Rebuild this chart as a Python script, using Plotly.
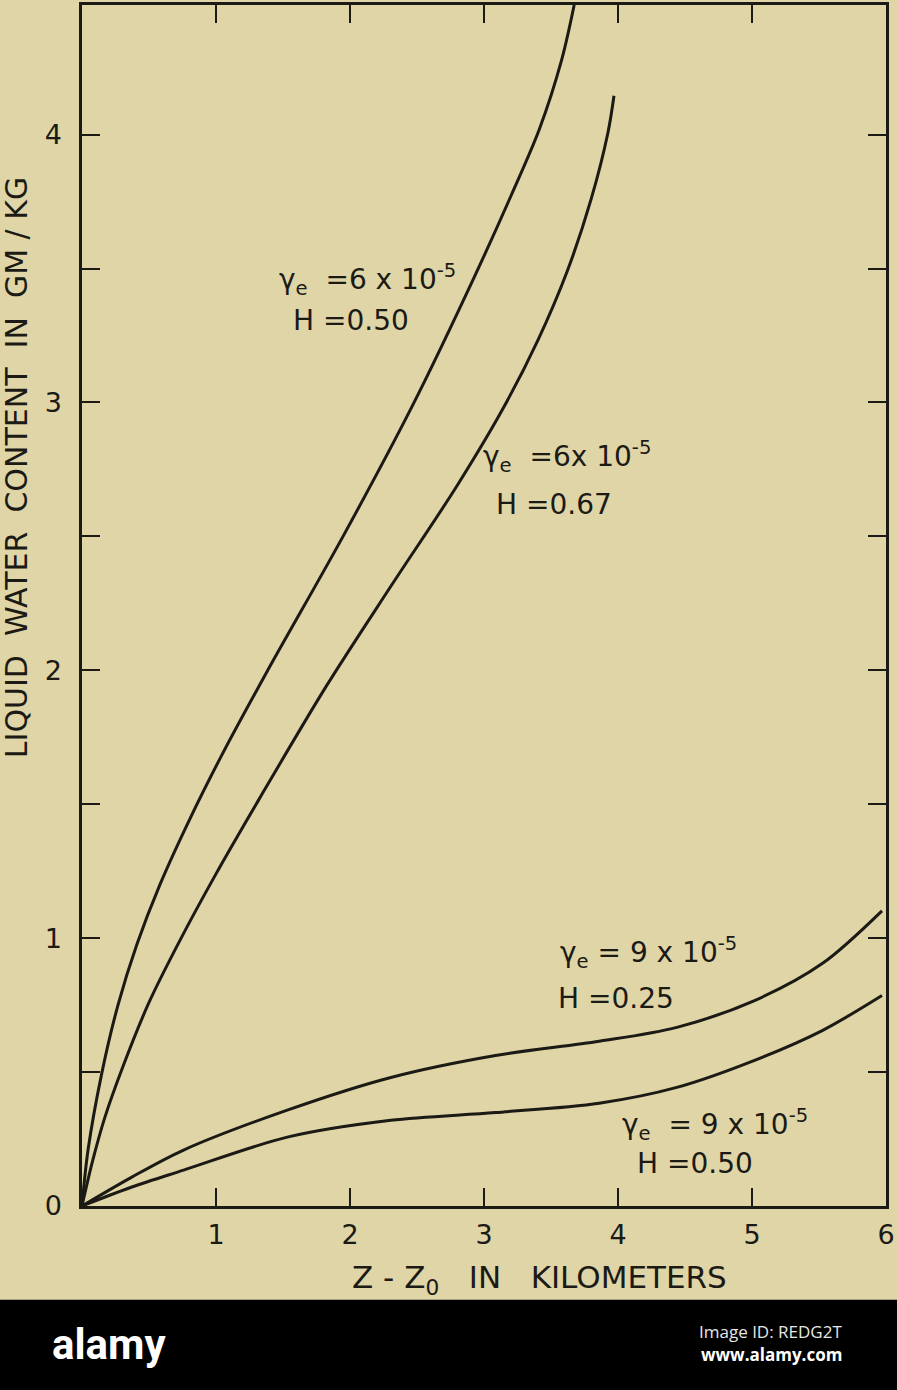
import plotly.graph_objects as go

# ---------------- data ----------------
# gamma_e = 6e-5, H = 0.50
x_a = [0.0, 0.045, 0.149, 0.27, 0.41, 0.58, 0.80, 1.05, 1.375, 1.948, 2.468, 2.929, 3.2, 3.413, 3.58, 3.673]
y_a = [0.0, 0.209, 0.499, 0.753, 0.977, 1.198, 1.44, 1.69, 1.99, 2.50, 2.99, 3.47, 3.77, 4.02, 4.28, 4.484]
# gamma_e = 6e-5, H = 0.67
x_b = [0.0, 0.08, 0.17, 0.305, 0.5, 0.729, 1.0, 1.323, 1.822, 2.3, 2.8, 3.145, 3.4, 3.621, 3.8, 3.926, 3.970]
y_b = [0.0, 0.17, 0.33, 0.52, 0.76, 0.99, 1.24, 1.52, 1.94, 2.31, 2.69, 2.98, 3.23, 3.49, 3.76, 4.01, 4.145]
# gamma_e = 9e-5, H = 0.25
x_c = [0.0, 0.372, 0.758, 1.532, 2.305, 3.086, 3.859, 4.439, 5.019, 5.524, 5.970]
y_c = [0.0, 0.108, 0.209, 0.358, 0.480, 0.562, 0.615, 0.667, 0.767, 0.905, 1.102]
# gamma_e = 9e-5, H = 0.50
x_d = [0.0, 0.372, 0.758, 1.532, 2.305, 3.086, 3.859, 4.439, 5.019, 5.524, 5.970]
y_d = [0.0, 0.071, 0.134, 0.257, 0.320, 0.349, 0.384, 0.443, 0.544, 0.655, 0.786]

x_tickvals = [1, 2, 3, 4, 5, 6]
x_ticktext = ["1", "2", "3", "4", "5", "6"]
y_tickvals = [0, 0.5, 1, 1.5, 2, 2.5, 3, 3.5, 4]
y_ticktext = ["0", "", "1", "", "2", "", "3", "", "4"]

label_line1 = [
    "γ<sub>e</sub>  =6 x 10<sup>-5</sup>",
    "γ<sub>e</sub>  =6x 10<sup>-5</sup>",
    "γ<sub>e</sub> = 9 x 10<sup>-5</sup>",
    "γ<sub>e</sub>  = 9 x 10<sup>-5</sup>",
]
label_line2 = ["H =0.50", "H =0.67", "H =0.25", "H =0.50"]

# ---------------- styling ----------------
BG = "#DFD5A7"
INK = "#1b1a15"
FONT = "DejaVu Sans"

fig = go.Figure()
for xs, ys in [(x_a, y_a), (x_b, y_b), (x_c, y_c), (x_d, y_d)]:
    fig.add_trace(go.Scatter(
        x=xs, y=ys, mode="lines",
        line=dict(color=INK, width=3, shape="spline", smoothing=0.9),
        showlegend=False, hoverinfo="skip"))

# label anchor positions (data coords)
l1_pos = [(1.457, 3.46), (2.981, 2.80), (3.554, 0.945), (4.015, 0.305)]
l2_pos = [(1.561, 3.307), (3.071, 2.618), (3.539, 0.775), (4.126, 0.160)]

anns = []
for (px, py), t in zip(l1_pos, label_line1):
    anns.append(dict(x=px, y=py, xref="x", yref="y", text=t, showarrow=False,
                     xanchor="left", yanchor="middle",
                     font=dict(family=FONT, size=28, color=INK)))
for (px, py), t in zip(l2_pos, label_line2):
    anns.append(dict(x=px, y=py, xref="x", yref="y", text=t, showarrow=False,
                     xanchor="left", yanchor="middle",
                     font=dict(family=FONT, size=28, color=INK)))

# axis titles
anns.append(dict(x=0.569, y=-0.0615, xref="paper", yref="paper",
                 text="Z - Z<sub>0</sub>   IN   KILOMETERS", showarrow=False,
                 xanchor="center", yanchor="middle",
                 font=dict(family=FONT, size=31, color=INK)))
anns.append(dict(x=-0.0805, y=0.6146, xref="paper", yref="paper",
                 text="LIQUID  WATER  CONTENT  IN  GM / KG", showarrow=False,
                 textangle=-90, xanchor="center", yanchor="middle",
                 font=dict(family=FONT, size=30, color=INK)))

# stock-photo footer band
anns.append(dict(x=-0.0397, y=-0.1154, xref="paper", yref="paper", text="<b>alamy</b>",
                 showarrow=False, xanchor="left", yanchor="middle",
                 font=dict(family="Liberation Sans Narrow, Roboto, sans-serif", size=42, color="white")))
anns.append(dict(x=0.948, y=-0.1047, xref="paper", yref="paper", text="Image ID: REDG2T",
                 showarrow=False, xanchor="right", yanchor="middle",
                 font=dict(family="Open Sans", size=17, color="#e6e6e6")))
anns.append(dict(x=0.948, y=-0.1238, xref="paper", yref="paper", text="<b>www.alamy.com</b>",
                 showarrow=False, xanchor="right", yanchor="middle",
                 font=dict(family="Open Sans", size=17, color="white")))

axis_common = dict(
    ticks="inside", ticklen=18, tickwidth=2, tickcolor=INK,
    showline=True, linewidth=2.5, linecolor=INK, mirror="ticks",
    showgrid=False, zeroline=False,
    tickfont=dict(family=FONT, size=27, color=INK),
    ticklabeloverflow="allow",
)

fig.update_layout(
    width=897, height=1390,
    margin=dict(l=82, r=8, t=2, b=184),
    paper_bgcolor=BG, plot_bgcolor=BG,
    xaxis=dict(range=[0, 6], tickmode="array", tickvals=x_tickvals, ticktext=x_ticktext,
               ticklabelstandoff=3, **axis_common),
    yaxis=dict(range=[0, 4.484], tickmode="array", tickvals=y_tickvals, ticktext=y_ticktext,
               ticklabelstandoff=12, **axis_common),
    annotations=anns,
    shapes=[dict(type="rect", xref="paper", yref="paper", x0=-0.2, x1=1.2,
                 y0=-0.17, y1=-0.0781, fillcolor="black", line=dict(width=0), layer="above")],
)

fig.write_html("out.html", config={"displayModeBar": False},
               post_script="document.body.style.margin='0';document.body.style.overflow='hidden';")
